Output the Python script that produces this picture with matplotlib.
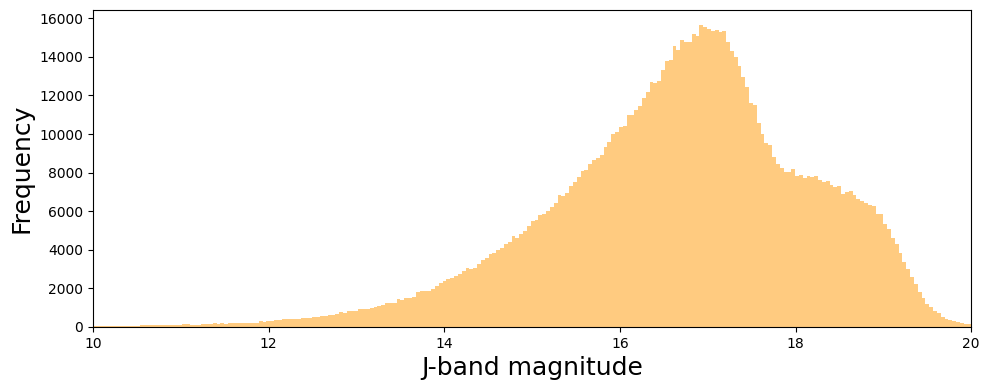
import numpy as np
import matplotlib.pyplot as plt

# histogram counts per bin, bins of ~0.0436 mag
bin_start = 9.9674
bin_width = 0.04363
counts = [
    30, 35, 40, 38, 45, 48, 44, 52, 55, 50, 58, 60, 62, 105, 70, 95,
    98, 100, 102, 100, 105, 108, 110, 112, 170, 165, 115, 118, 120, 155,
    160, 158, 205, 160, 205, 165, 200, 205, 210, 205, 212, 215, 210, 218,
    290, 255, 280, 300, 345, 350, 390, 395, 400, 398, 402, 445, 450, 455,
    500, 505, 550, 555, 600, 608, 656, 760, 708, 805, 815, 846, 910, 920,
    945, 955, 1019, 1070, 1122, 1220, 1226, 1230, 1468, 1416, 1515, 1520,
    1525, 1796, 1845, 1850, 1883, 1986, 2106, 2260, 2365, 2469, 2538, 2624,
    2762, 2883, 3039, 2987, 3039, 3281, 3453, 3557, 3764, 3833, 3971, 4075,
    4282, 4385, 4696, 4593, 4800, 4955, 5214, 5473, 5525, 5784, 5853, 6000,
    6216, 6423, 6838, 6786, 6941, 7304, 7511, 7770, 8081, 8133, 8443, 8651,
    8754, 8910, 9324, 9583, 9997, 10101, 10360, 10412, 10982, 10982, 11241,
    11448, 11862, 12173, 12691, 12639, 12743, 13313, 13779, 13831, 14556,
    14349, 14867, 14763, 14763, 15177, 15074, 15644, 15540, 15436, 15367,
    15402, 15298, 15333, 14763, 14297, 13986, 13520, 12950, 12432, 11603,
    11500, 10567, 9997, 9531, 9428, 8806, 8443, 8236, 8029, 8029, 8184,
    7822, 7874, 7718, 7822, 7770, 7822, 7615, 7511, 7563, 7356, 7252, 7330,
    6900, 6990, 7045, 6838, 6630, 6527, 6423, 6320, 6268, 5853, 5853, 5335,
    5076, 4610, 4299, 3833, 3367, 3004, 2590, 2227, 1813, 1502, 1191, 1036,
    829, 725, 518, 414, 363, 311, 259, 207, 155, 155,
]

edges = bin_start + bin_width * np.arange(len(counts) + 1)

fig, ax = plt.subplots(figsize=(9.89, 3.9))
ax.hist(edges[:-1], bins=edges, weights=counts, color='#ffcb80')
ax.set_xlim(10, 20)
ax.set_xlabel("J-band magnitude", fontsize=18)
ax.set_ylabel("Frequency", fontsize=18)
plt.subplots_adjust(left=0.094, right=0.982, bottom=0.162, top=0.974)
plt.savefig("out.png", dpi=100)
